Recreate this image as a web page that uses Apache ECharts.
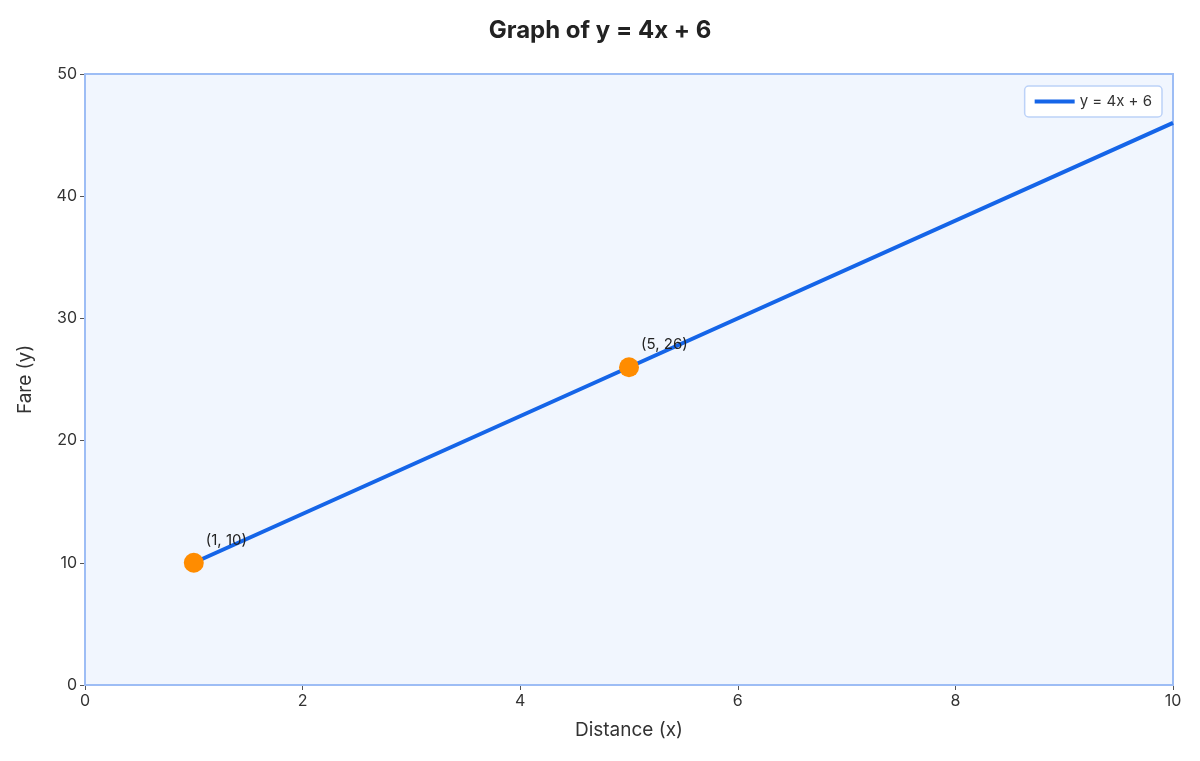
<!DOCTYPE html>
<html><head><meta charset="utf-8">
<script src="https://cdn.jsdelivr.net/npm/echarts@6/dist/echarts.min.js"></script>
<style>html,body{margin:0;padding:0;background:#fff}#c{width:1200px;height:761px}</style>
</head><body><div id="c"></div>
<script>
const lineX = [1, 5, 10];
const lineY = [10, 26, 46];
const pointX = [1, 5];
const pointY = [10, 26];
const pointLabels = ['(1, 10)', '(5, 26)'];
const chart = echarts.init(document.getElementById('c'));
const F = 'Inter, Lato, sans-serif';
chart.setOption({
  animation: false,
  backgroundColor: '#fff',
  title: {text: 'Graph of y = 4x + 6', left: 'center', top: 14,
    textStyle: {fontFamily: F, fontSize: 24, fontWeight: 'bold', color: '#222'}},
  grid: {left: 85, right: 27, top: 74, bottom: 76, backgroundColor: '#f1f6fe', show: true, borderColor: '#9dbdf5', borderWidth: 2, z: 3},
  legend: {right: 38, top: 86, data: [{name: 'y = 4x + 6', icon: 'rect'}], itemWidth: 40, itemHeight: 4,
    backgroundColor: '#fff', borderColor: '#bcd2f8', borderWidth: 1.5, borderRadius: 4, padding: [8, 10],
    textStyle: {fontFamily: F, fontSize: 15, color: '#333'}},
  xAxis: {type: 'value', min: 0, max: 10, interval: 2, name: 'Distance (x)', nameLocation: 'middle', nameGap: 36,
    nameTextStyle: {fontFamily: F, fontSize: 19, color: '#333'},
    axisLine: {show: false}, axisTick: {show: true, lineStyle: {color: '#555'}},
    axisLabel: {fontFamily: F, fontSize: 16, color: '#333'},
    splitLine: {showMinLine: false, showMaxLine: false, lineStyle: {type: 'dotted', color: '#dde3ee'}}},
  yAxis: {type: 'value', min: 0, max: 50, interval: 10, name: 'Fare (y)', nameLocation: 'middle', nameGap: 50,
    nameTextStyle: {fontFamily: F, fontSize: 19, color: '#333'},
    axisLine: {show: false}, axisTick: {show: true, lineStyle: {color: '#555'}},
    axisLabel: {fontFamily: F, fontSize: 16, color: '#333'},
    splitLine: {showMinLine: false, showMaxLine: false, lineStyle: {type: 'dotted', color: '#dde3ee'}}},
  series: [
    {name: 'y = 4x + 6', type: 'line', data: lineX.map((x, i) => [x, lineY[i]]), showSymbol: false,
      lineStyle: {width: 4, color: '#1565e8'}, itemStyle: {color: '#1565e8'}},
    {type: 'scatter', data: pointX.map((x, i) => [x, pointY[i]]), symbolSize: 20, itemStyle: {color: '#ff8c00', opacity: 1}, z: 5,
      label: {show: true, formatter: p => pointLabels[p.dataIndex], position: [22, -20], fontFamily: F, fontSize: 15, color: '#222'}}
  ]
});
</script></body></html>
